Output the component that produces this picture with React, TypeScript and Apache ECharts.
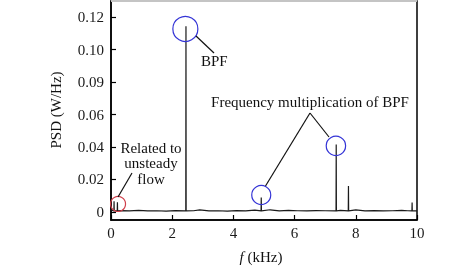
import React, { useEffect, useRef } from "react";
import * as echarts from "echarts";

// Axis ticks and labels (as printed in the figure)
const yTickValues = [0, 0.02, 0.04, 0.06, 0.08, 0.1, 0.12];
const yTickLabels = ["0", "0.02", "0.04", "0.06", "0.09", "0.10", "0.12"];
const xTickValues = [0, 2, 4, 6, 8, 10];
const xTickLabels = ["0", "2", "4", "6", "8", "10"];

// Tonal peaks (kHz, W/Hz)
const spikeFreqs = [0.1, 0.21, 2.45, 4.91, 7.36, 7.76, 9.84];
const spikePeaks = [0.0065, 0.006, 0.1145, 0.0088, 0.0415, 0.016, 0.0058];

// Broadband floor (kHz, W/Hz)
const floorFreqs = [0, 0.35, 0.6, 0.9, 1.2, 1.5, 1.8, 2.1, 2.7, 2.9, 3.2, 3.5, 3.8, 4.1, 4.4, 4.7, 5.2, 5.5, 5.8, 6.1, 6.4, 6.7, 7.0, 7.5, 8.0, 8.3, 8.6, 8.9, 9.2, 9.5, 9.7, 10];
const floorValues = [0.0012, 0.0008, 0.0006, 0.0009, 0.0006, 0.0007, 0.0005, 0.0008, 0.0007, 0.0012, 0.0006, 0.0007, 0.0005, 0.0008, 0.0006, 0.0011, 0.0013, 0.0006, 0.0009, 0.0007, 0.0006, 0.0008, 0.0007, 0.0009, 0.0012, 0.0006, 0.0008, 0.0006, 0.0007, 0.0009, 0.0007, 0.0006];

// Annotation circles (data coords)
const circleX = [2.43, 4.91, 7.35, 0.23];
const circleY = [0.1128, 0.0104, 0.0407, 0.0049];
const circleR = [12.5, 9.5, 9.7, 7.5];
const circleColors = ["#3434d6", "#3434d6", "#3434d6", "#d0404c"];

const FONT = "'Liberation Serif', 'Times New Roman', serif";

export default function App() {
  const ref = useRef<HTMLDivElement>(null);
  useEffect(() => {
    if (!ref.current) return;
    const chart = echarts.init(ref.current, undefined, { renderer: "svg" });

    const pts: [number, number][] = [];
    floorFreqs.forEach((f, i) => pts.push([f, floorValues[i]]));
    spikeFreqs.forEach((f, i) => {
      pts.push([f - 0.006, 0.0006]);
      pts.push([f, spikePeaks[i]]);
      pts.push([f + 0.006, 0.0006]);
    });
    pts.sort((a, b) => a[0] - b[0]);

    const labelFmt = (vals: number[], labels: string[]) => (v: number) => {
      const i = vals.findIndex((t) => Math.abs(t - v) < 1e-9);
      return i >= 0 ? labels[i] : "";
    };

    chart.setOption({
      animation: false,
      grid: { left: 111, right: 57, top: 1, bottom: 55, show: true, borderColor: "#000", borderWidth: 1.5, backgroundColor: "transparent" },
      xAxis: {
        type: "value",
        min: 0,
        max: 10,
        axisLine: { show: true, onZero: false, lineStyle: { color: "#000", width: 1.5 } },
        axisTick: { show: true, inside: true, length: 5, customValues: xTickValues, lineStyle: { color: "#000", width: 1.2 } },
        axisLabel: {
          customValues: xTickValues,
          formatter: labelFmt(xTickValues, xTickLabels),
          fontFamily: FONT,
          fontSize: 15,
          color: "#1a1a1a",
          margin: 5,
        },
        splitLine: { show: false },
      },
      yAxis: {
        type: "value",
        min: -0.005,
        max: 0.13,
        axisLine: { show: true, onZero: false, lineStyle: { color: "#000", width: 1.5 } },
        axisTick: { show: true, inside: true, length: 5, customValues: yTickValues, lineStyle: { color: "#000", width: 1.2 } },
        axisLabel: {
          customValues: yTickValues,
          formatter: labelFmt(yTickValues, yTickLabels),
          fontFamily: FONT,
          fontSize: 15,
          color: "#1a1a1a",
          margin: 7,
        },
        splitLine: { show: false },
      },
      series: [
        {
          type: "line",
          data: pts,
          showSymbol: false,
          lineStyle: { color: "#1a1a1a", width: 1.2 },
          silent: true,
        },
      ],
    });

    const toPx = (x: number, y: number) => chart.convertToPixel({ gridIndex: 0 }, [x, y]) as number[];

    const graphics: any[] = [];
    // light top frame edge
    graphics.push({
      type: "line",
      shape: { x1: 111, y1: 1, x2: 417, y2: 1 },
      style: { stroke: "#c4c4c4", lineWidth: 2 },
      z: 12,
    });
    circleX.forEach((cx, i) => {
      const [px, py] = toPx(cx, circleY[i]);
      graphics.push({
        type: "circle",
        shape: { cx: px, cy: py, r: circleR[i] },
        style: { fill: "none", stroke: circleColors[i], lineWidth: 1.2 },
        z: 10,
      });
    });
    const line = (x1: number, y1: number, x2: number, y2: number) => ({
      type: "line",
      shape: { x1, y1, x2, y2 },
      style: { stroke: "#111", lineWidth: 1.2 },
      z: 10,
    });
    graphics.push(line(196, 36, 214, 53));
    graphics.push(line(310, 113, 265.5, 186));
    graphics.push(line(310, 113, 329, 137));
    graphics.push(line(118, 197, 132, 173));
    const text = (x: number, y: number, t: string, align = "left", rot = 0) => ({
      type: "text",
      x,
      y,
      rotation: rot,
      style: {
        text: t,
        fontFamily: FONT,
        fontSize: 15,
        fill: "#111",
        align,
        verticalAlign: "middle",
        lineHeight: 15.5,
      },
      z: 11,
    });
    graphics.push(text(201, 61, "BPF"));
    graphics.push(text(310, 102, "Frequency multiplication of BPF", "center"));
    graphics.push(text(151, 163, "Related to\nunsteady\nflow", "center"));
    graphics.push(text(56, 110, "PSD (W/Hz)", "center", Math.PI / 2));
    graphics.push({
      type: "text",
      x: 261,
      y: 257,
      style: {
        text: "{i|f} (kHz)",
        fontFamily: FONT,
        fontSize: 15,
        fill: "#111",
        align: "center",
        verticalAlign: "middle",
        rich: { i: { fontStyle: "italic", fontFamily: FONT, fontSize: 15, fill: "#111" } },
      },
    });
    chart.setOption({ graphic: graphics });

    return () => chart.dispose();
  }, []);
  return <div ref={ref} style={{ position: "fixed", left: 0, top: 0, width: 474, height: 275 }} />;
}
